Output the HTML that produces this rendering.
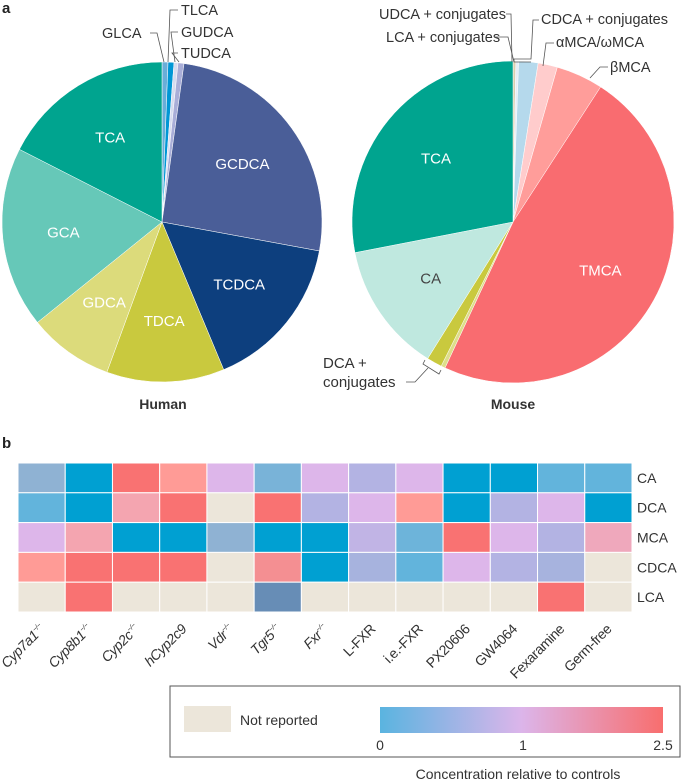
<!DOCTYPE html>
<html><head><meta charset="utf-8"><style>
body{margin:0;background:#fff;font-family:"Liberation Sans",sans-serif;}
svg{display:block}
</style></head><body>
<svg id="fig" width="685" height="782" viewBox="0 0 685 782" xmlns="http://www.w3.org/2000/svg">
<text x="2" y="13" font-size="15" font-weight="bold" fill="#222">a</text>
<text x="2" y="448" font-size="15" font-weight="bold" fill="#222">b</text>
<g id="humanPie"></g>
<g id="mousePie"></g>
<g id="heat"></g>
<g font-size="14.5" fill="#333" stroke="none">
<text x="163" y="409" text-anchor="middle" font-weight="bold" font-size="14">Human</text>
<text x="513" y="409" text-anchor="middle" font-weight="bold" font-size="14">Mouse</text>
<text x="102" y="38">GLCA</text>
<text x="181" y="15">TLCA</text>
<text x="181" y="37">GUDCA</text>
<text x="181" y="58">TUDCA</text>
<text x="379" y="19">UDCA + conjugates</text>
<text x="386" y="42">LCA + conjugates</text>
<text x="541" y="24">CDCA + conjugates</text>
<text x="556" y="47">αMCA/ωMCA</text>
<text x="610" y="72">βMCA</text>
<text x="323" y="368" font-size="15">DCA +</text>
<text x="323" y="387" font-size="15">conjugates</text>
</g>
<g stroke="#555" stroke-width="0.8" fill="none">
<polyline points="150,33 157,33 164,62"/>
<polyline points="178,10 170,10 168,62"/>
<polyline points="178,32 171,32 175,62"/>
<polyline points="178,53 172,53 179,62"/>
<polyline points="506,14 511,14 512,62"/>
<polyline points="494,37 508,37 514,62"/>
<polyline points="539,20 533,20 531,59 514,59 514,62 531,62"/>
<polyline points="554,43 546,43 543,66"/>
<polyline points="608,67 600,67 590,78"/>
<polyline points="406,382 415,382 428,368"/>
<polyline points="425,360 423,364 439,374 441,370"/>
</g>
<g id="legend">
<rect x="170" y="686" width="510" height="71" fill="none" stroke="#555" stroke-width="1"/>
<rect x="184" y="706" width="47" height="26" fill="#ece6da"/>
<text x="240" y="725" font-size="14" fill="#333">Not reported</text>
<defs><linearGradient id="gr" x1="0" x2="1"><stop offset="0" stop-color="#5ab4e0"/><stop offset="0.5" stop-color="#dcb5ea"/><stop offset="1" stop-color="#f86e6e"/></linearGradient></defs>
<rect x="380" y="707" width="283" height="26" fill="url(#gr)"/>
<text x="380" y="750" font-size="14" text-anchor="middle" fill="#333">0</text>
<text x="523" y="750" font-size="14" text-anchor="middle" fill="#333">1</text>
<text x="663" y="750" font-size="14" text-anchor="middle" fill="#333">2.5</text>
<text x="518" y="779" font-size="14" text-anchor="middle" fill="#333">Concentration relative to controls</text>
</g>
</svg>
<script>
const NS="http://www.w3.org/2000/svg";
const humanLabels=["GLCA","TLCA","GUDCA","TUDCA","GCDCA","TCDCA","TDCA","GDCA","GCA","TCA"];
const humanValues=[0.6,0.6,0.4,0.6,25.7,15.8,11.9,8.6,18.3,17.5];
const humanColors=["#6aaed8","#0097d5","#d7dcef","#a9aed8","#4a5e98","#0d3f7e","#c9c93e","#dcdb7b","#66c8b8","#00a48f"];
const humanShown=[false,false,false,false,true,true,true,true,true,true];
const mouseLabels=["UDCA","LCA","CDCA","αMCA/ωMCA","βMCA","TMCA","DCA conj","DCA","CA","TCA"];
const mouseValues=[0.28,0.28,1.94,1.94,4.72,47.78,0.42,1.53,13.06,28.05];
const mouseColors=["#d8cfb0","#e6eef6","#b5d9ec","#ffcccc","#ff9d9a","#f96c70","#dede8a","#c9c93e","#bfe8df","#00a48f"];
const mouseShown=[false,false,false,false,false,true,false,false,true,true];
const mouseTextColor=["#fff","#fff","#fff","#fff","#fff","#fff","#fff","#fff","#444","#fff"];
const heatCols=["Cyp7a1","Cyp8b1","Cyp2c","hCyp2c9","Vdr","Tgr5","Fxr","L-FXR","i.e.-FXR","PX20606","GW4064","Fexaramine","Germ-free"];
const heatColsKO=[true,true,true,false,true,true,true,false,false,false,false,false,false];
const heatRows=["CA","DCA","MCA","CDCA","LCA"];
const rowCA=[0.4,0,2.5,1.9,1,0.3,1,0.7,1,0,0,0.2,0.2];
const rowDCA=[0.2,0,1.5,2.5,null,2.5,0.7,1,1.9,0,0.7,1,0];
const rowMCA=[1,1.5,0,0,0.4,0,0,0.8,0.25,2.5,1,0.7,1.4];
const rowCDCA=[1.9,2.5,2.5,2.5,null,2.1,0,0.6,0.2,1,0.7,0.6,null];
const rowLCA=[null,2.5,null,null,null,-0.5,null,null,null,null,null,2.5,null];

function pie(g,cx,cy,r,vals,cols,labels,shown,tcols,fs,name){
  const tot=vals.reduce((a,b)=>a+b,0);let a0=0;
  vals.forEach((v,i)=>{
    const a1=a0+v/tot*2*Math.PI;
    const p=(a)=>[cx+r*Math.sin(a),cy-r*Math.cos(a)];
    const [x0,y0]=p(a0),[x1,y1]=p(a1);
    const path=document.createElementNS(NS,"path");
    path.setAttribute("d",`M${cx},${cy}L${x0},${y0}A${r},${r} 0 ${a1-a0>Math.PI?1:0} 1 ${x1},${y1}Z`);
    path.setAttribute("fill",cols[i]);path.setAttribute("stroke","#fff");path.setAttribute("stroke-width","0.5");
    
    
    g.appendChild(path);
    if(shown[i]){
      const am=(a0+a1)/2;const rr=r*0.62;
      const t=document.createElementNS(NS,"text");
      t.setAttribute("x",cx+rr*Math.sin(am));t.setAttribute("y",cy-rr*Math.cos(am)+5);
      t.setAttribute("text-anchor","middle");t.setAttribute("font-size",fs);t.setAttribute("fill",tcols?tcols[i]:"#fff");
      t.textContent=labels[i];
      
      
      g.appendChild(t);
    }
    a0=a1;
  });
}
pie(document.getElementById("humanPie"),162,222,160,humanValues,humanColors,humanLabels,humanShown,null,15,"human");
pie(document.getElementById("mousePie"),513,222,161,mouseValues,mouseColors,mouseLabels,mouseShown,mouseTextColor,15,"mouse");

const stops=[[-0.5,"#678db6"],[0,"#00a0d2"],[0.2,"#62b4dc"],[0.4,"#8fb2d3"],[0.7,"#b3b3e3"],[1,"#ddb6ea"],[1.5,"#f4a5b0"],[1.9,"#ff9b96"],[2.1,"#f48f92"],[2.5,"#f97272"]];
function hx(c){return [1,3,5].map(i=>parseInt(c.substr(i,2),16));}
function color(v){
  if(v===null)return "#ece6da";
  for(let i=1;i<stops.length;i++){if(v<=stops[i][0]){const [a,ca]=stops[i-1],[b,cb]=stops[i];const t=(v-a)/(b-a);const A=hx(ca),B=hx(cb);return `rgb(${A.map((x,k)=>Math.round(x+(B[k]-x)*t)).join(",")})`;}}
  return stops[stops.length-1][1];
}
const heat=document.getElementById("heat");
const rowsData=[rowCA,rowDCA,rowMCA,rowCDCA,rowLCA];
const x0=18,y0=463,cw=(632-18)/heatCols.length,ch=(612-463)/heatRows.length;
const xScale=i=>x0+i*cw, yScale=j=>y0+j*ch;
rowsData.forEach((row,j)=>{
  row.forEach((v,i)=>{
    const r=document.createElementNS(NS,"rect");
    r.setAttribute("x",xScale(i));r.setAttribute("y",yScale(j));r.setAttribute("width",cw);r.setAttribute("height",ch);
    r.setAttribute("fill",color(v));r.setAttribute("stroke","#fff");r.setAttribute("stroke-width","1");
    
    
    heat.appendChild(r);
  });
  const t=document.createElementNS(NS,"text");
  t.setAttribute("x",637);t.setAttribute("y",yScale(j)+ch/2+5);t.setAttribute("font-size","14");t.setAttribute("fill","#333");
  t.textContent=heatRows[j];
  
  
  heat.appendChild(t);
});
heatCols.forEach((c,i)=>{
  const t=document.createElementNS(NS,"text");
  const x=xScale(i)+cw/2+4,y=630;
  t.setAttribute("x",x);t.setAttribute("y",y);t.setAttribute("text-anchor","end");t.setAttribute("font-size","14");t.setAttribute("letter-spacing","-0.4");t.setAttribute("fill","#333");
  t.setAttribute("transform",`rotate(-45 ${x} ${y})`);
  if(heatColsKO[i]||c==="hCyp2c9")t.setAttribute("font-style","italic");
  t.appendChild(document.createTextNode(c));
  if(heatColsKO[i]){
    const s=document.createElementNS(NS,"tspan");
    s.setAttribute("font-size","7");s.setAttribute("dy","-6");
    s.textContent="−/−";
    t.appendChild(s);
  }
  
  
  heat.appendChild(t);
});
</script>
</body></html>
